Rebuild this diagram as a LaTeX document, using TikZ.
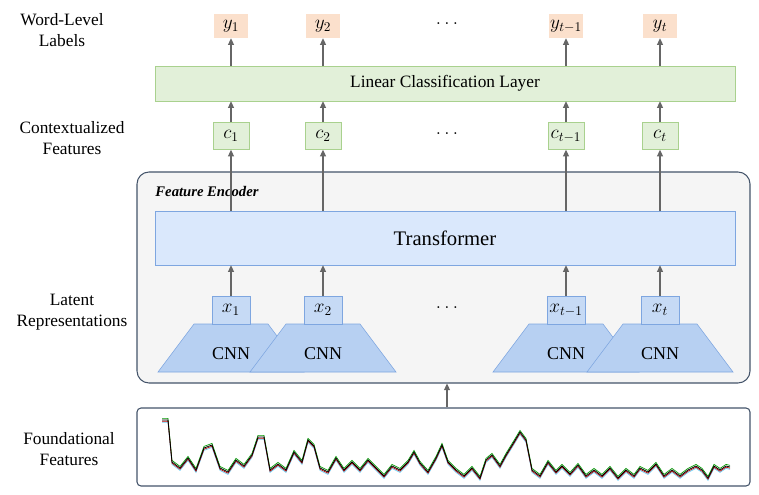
\documentclass[tikz,border=0pt]{standalone}
\usepackage{fontspec}
\setmainfont{Liberation Serif}
\usetikzlibrary{arrows.meta}
\definecolor{bfill}{HTML}{DAE8FC}
\definecolor{bdraw}{HTML}{7EA6E0}
\definecolor{xfill}{HTML}{C6DAF5}
\definecolor{cnnfill}{HTML}{B7D0F2}
\definecolor{gfill}{HTML}{E2F0D9}
\definecolor{gdraw}{HTML}{A9D18E}
\definecolor{ofill}{HTML}{FBE0CC}
\definecolor{encdraw}{HTML}{44546A}
\begin{document}
\begin{tikzpicture}[x=0.75pt,y=-0.75pt,
 lab/.style={align=center,font=\fontsize{13}{16}\selectfont},
 ybox/.style={draw=none,fill=ofill,minimum width=34*0.75pt,minimum height=24*0.75pt,inner sep=0pt,font=\fontsize{14}{15}\selectfont},
 cbox/.style={draw=gdraw,fill=gfill,minimum width=36*0.75pt,minimum height=27*0.75pt,inner sep=0pt,font=\fontsize{14}{15}\selectfont},
 xbox/.style={draw=bdraw,fill=xfill,minimum width=38*0.75pt,minimum height=28*0.75pt,inner sep=0pt,font=\fontsize{14}{15}\selectfont},
 cnn/.style={draw=bdraw,fill=cnnfill},
 arr/.style={-{Triangle[length=5pt,width=4.5pt]},draw=black!60,line width=0.9pt},
 dots/.style={font=\fontsize{14}{15}\selectfont}]
\useasboundingbox (0,0) rectangle (759,495);
% left labels
\node[lab] (l1) at (62,30) {Word-Level\\Labels};
\node[lab] (l2) at (72,138) {Contextualized\\Features};
\node[lab] (l3) at (72,312) {Latent\\Representations};
\node[lab] (l4) at (69,449) {Foundational\\Features};
% encoder box
\node[draw=encdraw,fill=black!4,rounded corners=9pt,line width=0.8pt,minimum width=613*0.75pt,minimum height=211*0.75pt] (enc) at (443.5,277.5) {};
\node[font=\bfseries\itshape\fontsize{11}{13}\selectfont] (enclab) at (207,191) {Feature Encoder};
\node[draw=bdraw,fill=bfill,minimum width=580*0.75pt,minimum height=54*0.75pt,font=\fontsize{15.5}{18}\selectfont] (tr) at (445,238) {Transformer};
\node[draw=gdraw,fill=gfill,minimum width=580*0.75pt,minimum height=35*0.75pt,font=\fontsize{13}{15}\selectfont] (lin) at (445,83.5) {Linear Classification Layer};
% columns
\foreach \n/\xx/\s in {1/231/1,2/323/2,3/566/{t-1},4/660/t}{
 \node[ybox] (y\n) at (\xx,26) {$y_{\s}$};
 \node[cbox] (c\n) at (\xx,136) {$c_{\s}$};
 \draw[arr] (c\n) -- (c\n|-lin.south);
 \draw[arr] (lin.north-|y\n) -- (y\n);
 \draw[arr] (tr.north-|c\n) -- (c\n);
}
\node[dots] (d1) at (447,24) {$\ldots$};
\node[dots] (d2) at (447,134) {$\ldots$};
\node[dots] (d3) at (447,308) {$\ldots$};
% CNNs
\foreach \n/\xx/\s in {1/231/1,2/323/2,3/566/{t-1},4/660/t}{
 \draw[cnn] (\xx-37,324) -- (\xx+37,324) -- (\xx+73,372) -- (\xx-73,372) -- cycle;
 \node[font=\fontsize{13.5}{15}\selectfont] (cnn\n) at (\xx,354) {CNN};
 \node[xbox] (x\n) at (\xx,310) {$x_{\s}$};
 \draw[arr] (x\n) -- (x\n|-tr.south);
}
% foundational
\node[draw=encdraw,fill=white,rounded corners=3pt,line width=0.8pt,minimum width=613*0.75pt,minimum height=78*0.75pt] (fnd) at (443.5,447) {};
\draw[arr] (fnd.north-|d3) -- (enc.south-|d3);
\def\sig{(162,420)--(168,420)--(172,462)--(180,468)--(188,458)--(196,470)--(204,448)--(212,445)--(220,468)--(228,472)--(236,460)--(244,466)--(252,455)--(258,437)--(264,437)--(270,470)--(278,464)--(286,470)--(294,452)--(302,462)--(308,440)--(314,446)--(320,468)--(328,472)--(336,458)--(344,470)--(352,462)--(360,470)--(368,460)--(376,468)--(384,476)--(392,466)--(400,470)--(408,462)--(414,452)--(420,463)--(428,472)--(436,458)--(442,445)--(448,462)--(456,470)--(464,476)--(472,468)--(480,478)--(486,460)--(492,455)--(500,466)--(506,455)--(514,442)--(520,432)--(526,440)--(532,470)--(540,476)--(548,462)--(556,472)--(562,466)--(570,474)--(578,465)--(586,476)--(594,470)--(602,476)--(610,468)--(618,478)--(626,470)--(634,476)--(640,468)--(648,472)--(656,464)--(664,476)--(672,470)--(680,476)--(688,470)--(696,466)--(702,470)--(708,478)--(714,466)--(720,470)--(726,466)--(730,467)}
\draw[cyan!60,line width=0.5pt,yshift=-1.8pt] \sig;
\draw[green!60!black,line width=0.5pt,yshift=1.2pt] \sig;
\draw[red!70!black,line width=0.5pt,yshift=-0.9pt] \sig;
\draw[black,line width=0.6pt] \sig;
\end{tikzpicture}
\end{document}
